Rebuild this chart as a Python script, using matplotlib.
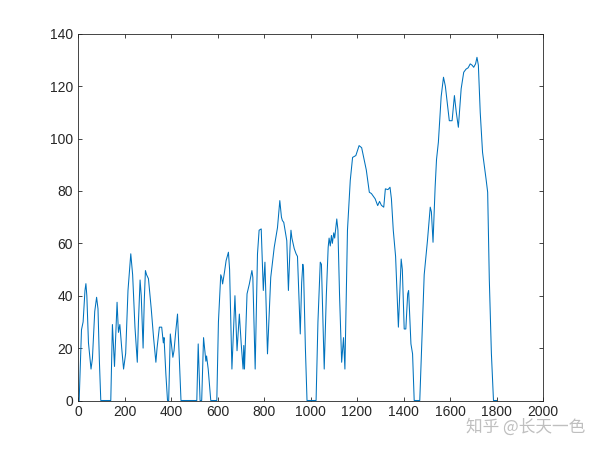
import matplotlib
matplotlib.use("Agg")
import matplotlib.pyplot as plt

# points (x, y)
xs = [5, 15, 22, 30, 34, 38, 45, 56, 62, 72, 80, 86, 92, 98, 141, 148, 157, 168, 174, 180,
      188, 196, 205, 215, 227, 235, 245, 255, 260, 267, 272, 280, 285, 290, 295, 303, 315, 325,
      335, 340, 350, 360, 367, 370, 378, 385, 390, 397, 408, 413, 420, 428, 434, 443, 511, 517,
      525, 532, 540, 550, 553, 560, 571, 597, 604, 614, 618, 622, 630, 637, 647, 652, 662, 675,
      684, 694, 702, 710, 713, 716, 727, 737, 748, 752, 762, 772, 779, 788, 797, 804, 815, 829,
      844, 858, 868, 875, 879, 885, 898, 905, 912, 916, 920, 930, 938, 944, 950, 956, 962, 967,
      970, 978, 985, 1024, 1032, 1042, 1047, 1052, 1059, 1068, 1076, 1080, 1085, 1090, 1094,
      1100, 1104, 1113, 1118, 1125, 1134, 1142, 1148, 1159, 1171, 1181, 1195, 1209, 1220, 1233,
      1240, 1246, 1253, 1262, 1270, 1278, 1289, 1297, 1305, 1315, 1322, 1333, 1342, 1348, 1356,
      1360, 1366, 1378, 1390, 1395, 1403, 1410, 1418, 1422, 1428, 1432, 1439, 1446, 1470, 1480,
      1489, 1503, 1515, 1520, 1527, 1536, 1542, 1550, 1562, 1572, 1580, 1588, 1597, 1609, 1619,
      1627, 1636, 1648, 1659, 1669, 1678, 1687, 1695, 1702, 1710, 1716, 1722, 1730, 1740, 1755,
      1762, 1769, 1778, 1787, 1800]
ys = [0, 27, 30, 42, 44.6, 40, 22, 12, 16, 34, 39.4, 35, 15, 0, 0, 29, 13, 37.5, 26, 29,
      20, 12, 18, 42, 56, 48, 28, 14.6, 30, 46, 40, 20, 38, 49.6, 48, 46.5, 35, 24,
      14.6, 20, 28, 28, 22, 24, 10, 0, 0, 25.4, 16.5, 19, 26, 33, 20, 0, 0, 21.6,
      0, 0, 24, 15, 17, 12, 0, 0, 30, 48, 47, 44.5, 49, 53.4, 56.6, 50, 12, 40,
      19, 33, 21.6, 12, 21, 12, 40.7, 44.5, 49.6, 47, 12, 56, 65, 65.5, 42, 52.8, 17.8, 47,
      58.5, 66, 76.3, 70, 68.7, 68, 61, 42, 58.5, 65, 62, 58, 56, 55, 40, 25.4, 45, 52,
      50, 20, 0, 0, 30, 52.8, 52, 35, 12, 40, 58.5, 62, 59, 63, 60,
      64, 62, 69.3, 65, 40, 14.6, 24, 12, 65, 84, 92.8, 93.5, 97.3, 96.5, 91,
      88, 84, 79.5, 79, 78, 77, 74.4, 76, 74.5, 73.8, 80.8, 80.5, 81.4, 77, 65,
      61, 55, 28, 54, 50, 27.3, 27.3, 40.7, 42, 30, 21.6, 17.8, 0, 0, 25,
      48, 61, 73.8, 72, 60.4, 81.4, 92, 98.6, 116, 123.4, 120, 113.8, 106.8, 106.8, 116.4,
      110, 104.3, 119, 125.3, 126.5, 127, 128.5, 128, 127.2, 128.5, 131, 128, 110, 94.7, 84.6,
      79.5, 46.4, 18, 0, 0]

plt.rcParams['font.family'] = ['Liberation Sans', 'DejaVu Sans']

fig = plt.figure(figsize=(6, 4.5), dpi=100)
ax = fig.add_axes([0.13, 0.11, 0.775, 0.815])
ax.plot(xs, ys, color='#0072BD', linewidth=0.75)

ax.set_xlim(0, 2000)
ax.set_ylim(0, 140)
ax.set_xticks(range(0, 2001, 200))
ax.set_yticks(range(0, 141, 20))

ax.tick_params(direction='in', top=True, right=True, labelsize=10, colors='#262626',
               length=3, width=0.6)
for s in ax.spines.values():
    s.set_color('#262626')
    s.set_linewidth(0.6)

# watermark
fig.text(0.975, 0.05, '知乎 @长天一色', ha='right', va='center', fontsize=12,
         color='#bfbfbf', family=['Noto Sans CJK SC', 'DejaVu Sans'])

fig.savefig('out.png', dpi=100)
